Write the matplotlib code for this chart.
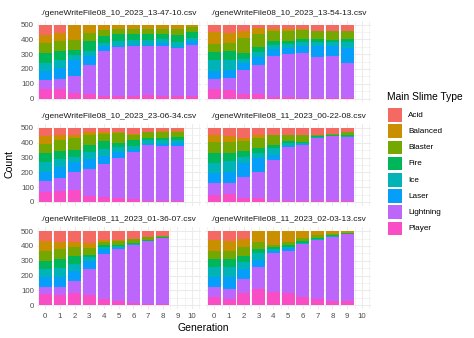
import numpy as np
import matplotlib
matplotlib.use("Agg")
import matplotlib.pyplot as plt
from matplotlib.patches import Rectangle

plt.rcParams['font.family'] = ['Liberation Sans', 'DejaVu Sans']

# Slime categories (stack order: first one on top) and their hue colours
slime_types = ["Acid", "Balanced", "Blaster", "Fire", "Ice", "Laser", "Lightning", "Player"]
slime_colors = ["#F46A62", "#C98F00", "#74A800", "#00B65A", "#00B3B6", "#059FFA", "#BC66FC", "#F94DC6"]

run_files = [
    "./geneWriteFile08_10_2023_13-47-10.csv",
    "./geneWriteFile08_10_2023_13-54-13.csv",
    "./geneWriteFile08_10_2023_23-06-34.csv",
    "./geneWriteFile08_11_2023_00-22-08.csv",
    "./geneWriteFile08_11_2023_01-36-07.csv",
    "./geneWriteFile08_11_2023_02-03-13.csv",
]

gen_ticks = list(range(11))
count_ticks = [0, 100, 200, 300, 400, 500]

# Counts per generation: Acid, Balanced, Blaster, Fire, Ice, Laser, Lightning, Player
run_13_47_10 = [
    [68, 56, 68, 67, 52, 65, 56, 68],
    [57, 56, 67, 57, 56, 72, 67, 68],
    [0, 102, 67, 34, 34, 112, 113, 38],
    [0, 57, 56, 67, 30, 65, 193, 32],
    [0, 34, 45, 45, 23, 33, 304, 16],
    [0, 29, 38, 45, 34, 7, 331, 16],
    [0, 29, 36, 40, 30, 10, 335, 20],
    [0, 27, 40, 40, 30, 10, 330, 23],
    [0, 30, 35, 35, 25, 20, 340, 15],
    [0, 30, 40, 45, 35, 10, 325, 15],
    [0, 20, 30, 40, 20, 25, 350, 15],
]
run_13_54_13 = [
    [50, 81, 54, 52, 74, 54, 67, 68],
    [57, 67, 56, 57, 67, 56, 79, 61],
    [45, 45, 102, 40, 28, 44, 164, 32],
    [25, 40, 90, 30, 35, 55, 195, 30],
    [30, 15, 67, 25, 30, 45, 274, 14],
    [29, 16, 67, 20, 25, 39, 295, 9],
    [30, 5, 65, 20, 25, 50, 300, 5],
    [45, 0, 55, 20, 25, 75, 275, 5],
    [45, 0, 60, 15, 25, 70, 280, 5],
    [45, 0, 56, 20, 36, 101, 238, 4],
]
run_23_06_34 = [
    [57, 50, 62, 61, 70, 61, 73, 66],
    [50, 30, 75, 55, 55, 70, 90, 75],
    [45, 25, 80, 47, 35, 64, 125, 79],
    [30, 15, 70, 45, 50, 70, 182, 38],
    [30, 10, 50, 50, 50, 55, 220, 35],
    [30, 5, 70, 25, 30, 45, 265, 30],
    [40, 5, 40, 35, 30, 15, 315, 20],
    [25, 5, 35, 20, 25, 5, 380, 5],
    [20, 10, 35, 20, 25, 10, 375, 5],
    [20, 5, 35, 25, 20, 15, 375, 5],
]
run_00_22_08 = [
    [45, 50, 73, 66, 73, 68, 75, 50],
    [52, 43, 75, 55, 75, 70, 73, 57],
    [68, 20, 70, 35, 45, 92, 143, 27],
    [45, 25, 65, 35, 35, 90, 177, 28],
    [45, 5, 65, 20, 45, 35, 275, 10],
    [45, 0, 45, 10, 25, 5, 365, 5],
    [45, 0, 50, 10, 5, 5, 380, 5],
    [45, 0, 10, 5, 5, 0, 430, 5],
    [40, 0, 10, 5, 0, 0, 440, 5],
    [30, 0, 15, 10, 5, 0, 435, 5],
]
run_01_36_07 = [
    [68, 63, 68, 56, 57, 64, 49, 75],
    [75, 45, 68, 63, 61, 63, 57, 68],
    [75, 35, 55, 57, 45, 68, 84, 81],
    [79, 36, 45, 18, 22, 56, 176, 68],
    [63, 10, 22, 15, 10, 33, 302, 45],
    [63, 5, 25, 10, 10, 10, 350, 27],
    [52, 0, 30, 6, 5, 0, 389, 18],
    [40, 0, 20, 5, 0, 0, 430, 5],
    [30, 0, 10, 5, 0, 0, 450, 5],
]
run_02_03_13 = [
    [59, 72, 57, 56, 68, 68, 63, 57],
    [68, 63, 57, 56, 68, 79, 64, 45],
    [52, 57, 56, 45, 45, 68, 96, 81],
    [0, 75, 45, 30, 45, 50, 147, 108],
    [0, 93, 15, 12, 15, 15, 264, 86],
    [0, 75, 18, 12, 10, 17, 287, 81],
    [0, 48, 22, 12, 5, 0, 357, 56],
    [0, 25, 20, 10, 8, 0, 396, 41],
    [0, 18, 10, 5, 5, 0, 437, 25],
    [0, 10, 5, 3, 2, 0, 451, 29],
]

runs = [run_13_47_10, run_13_54_13, run_23_06_34,
        run_00_22_08, run_01_36_07, run_02_03_13]

W, H = 474, 338
fig = plt.figure(figsize=(W / 100, H / 100), dpi=100)
fig.patch.set_facecolor("white")


def px_axes(x0, x1, top, h):
    return fig.add_axes([x0 / W, 1 - (top + h) / H, (x1 - x0) / W, h / H])


col_x = [(36.5, 200.8), (205.4, 370.8)]
row_top = [20.8, 124.2, 227.4]
panel_h = 81.5
grid_col = "#EBEBEB"

for i, (run, fname) in enumerate(zip(runs, run_files)):
    r, c = divmod(i, 2)
    ax = px_axes(col_x[c][0], col_x[c][1], row_top[r], panel_h)
    ax.set_facecolor("none")
    for s in ax.spines.values():
        s.set_visible(False)
    ax.set_xlim(-0.6, 10.6)
    ax.set_ylim(-25, 525)
    ax.set_xticks(gen_ticks)
    ax.set_yticks(count_ticks)
    ax.set_xticks(np.arange(-0.5, 11, 1.0), minor=True)
    ax.set_yticks(np.arange(50, 500, 100), minor=True)
    ax.grid(which="major", color=grid_col, linewidth=0.75)
    ax.grid(which="minor", color=grid_col, linewidth=0.4)
    ax.set_axisbelow(True)
    ax.tick_params(which="both", length=0, labelsize=5.7, labelcolor="#4D4D4D", pad=1.8)
    ax.tick_params(axis="x", pad=2.6)
    if c != 0:
        ax.tick_params(axis="y", labelleft=False)
    if r != 2:
        ax.tick_params(axis="x", labelbottom=False)

    data = np.array(run, dtype=float)
    gens = np.arange(len(data))
    bottom = np.zeros(len(data))
    for k in reversed(range(len(slime_types))):
        ax.bar(gens, data[:, k], bottom=bottom, width=0.88,
               color=slime_colors[k], linewidth=0)
        bottom += data[:, k]

    ax.set_title(fname, fontsize=6.0, color="#1A1A1A", pad=4.3)

fig.text(203 / W, 1 - 327.7 / H, "Generation", ha="center", va="center", fontsize=7.5)
fig.text(9.5 / W, 1 - 164.4 / H, "Count", ha="center", va="center",
         rotation=90, fontsize=7.6)

# Legend
fig.text(387 / W, 1 - 97.5 / H, "Main Slime Type", ha="left", va="center", fontsize=7.4)
for k, (name, col) in enumerate(zip(slime_types, slime_colors)):
    top = 108.3 + k * 16.2
    fig.add_artist(Rectangle((387.5 / W, 1 - (top + 13.4) / H), 14 / W, 13.4 / H,
                             transform=fig.transFigure, facecolor=col, edgecolor="none"))
    fig.text(408 / W, 1 - (top + 6.9) / H, name, ha="left", va="center", fontsize=5.9)

fig.savefig("out.png", dpi=100)
